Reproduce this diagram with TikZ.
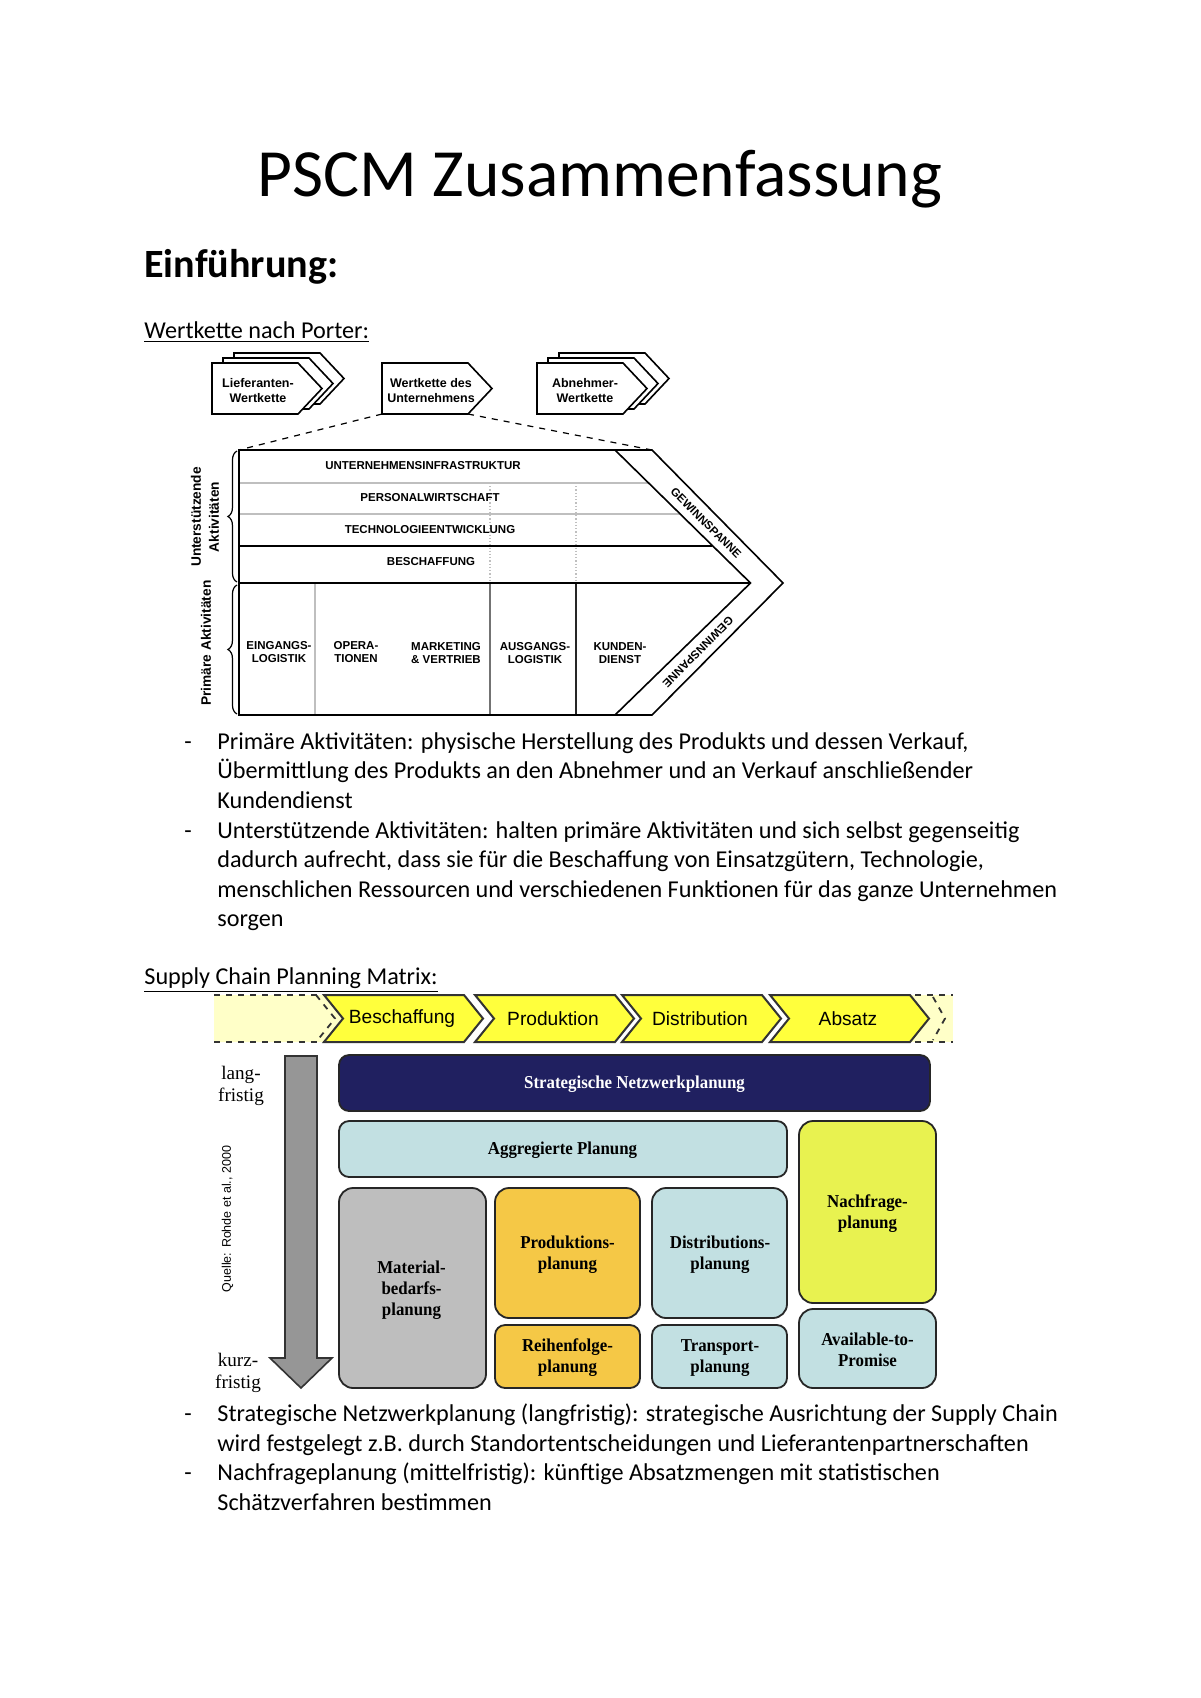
\documentclass[tikz,border=0pt]{standalone}
\usepackage{fontspec}
\setmainfont{Carlito}
\newfontfamily\arialf{Liberation Sans}
\newfontfamily\serf{Liberation Serif}
\newfontfamily\serfc[FakeStretch=0.93]{Liberation Serif}
\usetikzlibrary{decorations.pathreplacing}
\definecolor{navy}{RGB}{32,32,96}
\definecolor{lblue}{RGB}{194,224,226}
\definecolor{gold}{RGB}{245,200,70}
\definecolor{lime}{RGB}{232,242,80}
\definecolor{gbox}{RGB}{190,190,190}
\definecolor{bandy}{RGB}{255,255,60}
\definecolor{lighty}{RGB}{255,255,200}
\definecolor{agray}{RGB}{150,150,150}
\begin{document}
\begin{tikzpicture}[x=0.4961pt,y=-0.4961pt,
  body/.style={anchor=base west, inner sep=0pt, font=\fontsize{12}{14}\selectfont},
  pl/.style={font=\arialf\bfseries\fontsize{6.2}{7.4}\selectfont, align=center, inner sep=0pt},
  act/.style={font=\arialf\bfseries\fontsize{5.7}{6.6}\selectfont, align=center, inner sep=0pt},
  side/.style={font=\arialf\bfseries\fontsize{6.8}{9}\selectfont, align=center, inner sep=0pt, rotate=90},
  pentline/.style={draw=black, line width=0.8pt, fill=white},
  chev/.style={draw=black!80, line width=1pt, fill=bandy},
  chevtxt/.style={font=\arialf\fontsize{9.5}{11}\selectfont, inner sep=0pt},
  mbox/.style={draw=black!85, line width=0.9pt, rounded corners=7pt},
  sbox/.style={draw=black!85, line width=0.9pt, rounded corners=5pt},
  mtxt/.style={font=\serfc\bfseries\fontsize{9}{10.5}\selectfont, align=center, inner sep=0pt},
  ftxt/.style={font=\serf\fontsize{9.5}{11}\selectfont, align=center, inner sep=0pt},
  pent/.pic={\path[pentline] (0,0) -- (86,0) -- (110,25.5) -- (86,51) -- (0,51) -- cycle;}
]
\useasboundingbox[fill=white] (0,0) rectangle (1200,1698);

% ---------- headings ----------
\node[anchor=base, inner sep=0pt, font=\fontsize{33.5}{38}\selectfont] (title) at (600,196) {PSCM Zusammenfassung};
\node[anchor=base west, inner sep=0pt, font=\bfseries\fontsize{19.9}{22}\selectfont] (h1) at (144,277) {Einführung:};
\node[body] (h2) at (144,338) {\underline{Wertkette nach Porter:}};

% ---------- Porter value chain ----------
\pic at (234,353) {pent};
\pic at (223,358) {pent};
\pic at (212,363) {pent};
\node[pl] (lief) at (258,390.5) {Lieferanten-\\Wertkette};
\pic at (382,363) {pent};
\node[pl] (wku) at (431,390.5) {Wertkette des\\Unternehmens};
\pic at (559,353) {pent};
\pic at (548,358) {pent};
\pic at (537,363) {pent};
\node[pl] (abn) at (585,390.5) {Abnehmer-\\Wertkette};

\coordinate (wkbl) at (382,414);
\coordinate (wkbr) at (468,414);
\coordinate (chtl) at (239,450);
\coordinate (chtr) at (652,450);
\draw[dashed, line width=0.6pt] (wkbl) -- (chtl);
\draw[dashed, line width=0.6pt] (wkbr) -- (chtr);

% light inner lines
\draw[black!25, line width=0.6pt] (239,483) -- (648,483);
\draw[black!25, line width=0.6pt] (239,514) -- (680,514);
\draw[black!25, densely dotted, line width=0.6pt] (490,483) -- (490,583);
\draw[black!25, densely dotted, line width=0.6pt] (576,483) -- (576,583);
\draw[black!25, line width=0.6pt] (315,583) -- (315,715);
\draw[black!55, line width=0.6pt] (490,583) -- (490,715);
\draw[black!85, line width=0.6pt] (576,583) -- (576,715);
% main chevron
\draw[line width=0.8pt] (chtl) -- (chtr) -- (783,583) -- (652,715) -- (239,715) -- cycle;
\draw[line width=0.8pt] (615,450) -- (750.5,583) -- (615,715);
\draw[line width=0.8pt] (239,583) -- (750.5,583);
\draw[line width=0.8pt] (239,546) -- (712,546);

\node[act] (infra) at (423,466) {UNTERNEHMENSINFRASTRUKTUR};
\node[act] (pers) at (430,498) {PERSONALWIRTSCHAFT};
\node[act] (tech) at (430,530) {TECHNOLOGIEENTWICKLUNG};
\node[act] (besch) at (431,562) {BESCHAFFUNG};
\node[act] (eing) at (279,652) {EINGANGS-\\LOGISTIK};
\node[act] (opera) at (356,652) {OPERA-\\TIONEN};
\node[act] (mark) at (446,653) {MARKETING\\\& VERTRIEB};
\node[act] (ausg) at (535,653) {AUSGANGS-\\LOGISTIK};
\node[act] (kund) at (620,653) {KUNDEN-\\DIENST};
\node[act, rotate=-45] (gw1) at (706,523) {GEWINNSPANNE};
\node[act, rotate=-135] (gw2) at (698,652) {GEWINNSPANNE};

\draw[line width=0.6pt, decorate, decoration={brace, amplitude=4.5pt}] (237,582) -- (237,451);
\draw[line width=0.6pt, decorate, decoration={brace, amplitude=4.5pt}] (237,714) -- (237,585);
\node[side] (ua) at (205,517) {Unterstützende\\Aktivitäten};
\node[side] (pa) at (206,643) {Primäre Aktivitäten};

% ---------- bullet text 1 ----------
\node[body] (d1) at (184,749) {-};
\node[body] (l1) at (217,749) {Primäre Aktivitäten: physische Herstellung des Produkts und dessen Verkauf,};
\node[body] (l2) at (217,778.5) {Übermittlung des Produkts an den Abnehmer und an Verkauf anschließender};
\node[body] (l3) at (217,808) {Kundendienst};
\node[body] (d2) at (184,838) {-};
\node[body] (l4) at (217,838) {Unterstützende Aktivitäten: halten primäre Aktivitäten und sich selbst gegenseitig};
\node[body] (l5) at (217,867) {dadurch aufrecht, dass sie für die Beschaffung von Einsatzgütern, Technologie,};
\node[body] (l6) at (217,897) {menschlichen Ressourcen und verschiedenen Funktionen für das ganze Unternehmen};
\node[body] (l7) at (217,926) {sorgen};

\node[body] (h3) at (144,984) {\underline{Supply Chain Planning Matrix:}};

% ---------- Supply chain planning matrix ----------
\fill[lighty] (214,995) -- (324,995) -- (343,1018.5) -- (324,1042) -- (214,1042) -- cycle;
\draw[dashed, black!80, line width=0.9pt] (214,995) -- (324,995);
\draw[dashed, black!80, line width=0.9pt] (214,1042) -- (324,1042);
\draw[dashed, black!80, line width=0.9pt] (316,995) -- (335,1018.5) -- (316,1042);
\fill[lighty] (905,995) -- (953,995) -- (953,1042) -- (905,1042) -- cycle;
\draw[dashed, black!80, line width=0.9pt] (915,995) -- (953,995);
\draw[dashed, black!80, line width=0.9pt] (915,1042) -- (953,1042);
\draw[dashed, black!80, line width=0.9pt] (933,997) -- (945,1018.5) -- (933,1040);
\foreach \L/\nm/\t in {324/cb/Beschaffung, 475/cp/Produktion, 622/cd/Distribution, 770/ca/Absatz}{
  \path[chev] (\L,995) -- ++(140,0) -- ++(19,23.5) -- ++(-19,23.5) -- ++(-140,0) -- ++(19,-23.5) -- cycle;
  \node[chevtxt] (\nm) at (\L+78,1018.5) {\t};
}

% time arrow
\path[draw=black!80, fill=agray, line width=0.8pt] (285,1056) -- (317,1056) -- (317,1358) -- (332,1358) -- (301,1388) -- (270,1358) -- (285,1358) -- cycle;
\node[ftxt] (lang) at (241,1086) {lang-\\fristig};
\node[ftxt] (kurz) at (238,1373) {kurz-\\fristig};
\node[font=\arialf\fontsize{6.2}{7}\selectfont, rotate=90, inner sep=0pt] (quelle) at (227.5,1219) {Quelle: Rohde et al., 2000};

% boxes
\path[sbox, fill=navy] (339,1055) rectangle (930,1111);
\node[mtxt, text=white] (snp) at (634.5,1084) {Strategische Netzwerkplanung};
\path[sbox, fill=lblue] (339,1121) rectangle (787,1177);
\node[mtxt] (agg) at (562.5,1150) {Aggregierte Planung};
\path[mbox, fill=lime] (799,1121) rectangle (936,1303);
\node[mtxt] (nach) at (867.5,1214) {Nachfrage-\\planung};
\path[mbox, fill=gbox] (339,1188) rectangle (486,1388);
\node[mtxt] (mat) at (411.5,1290) {Material-\\bedarfs-\\planung};
\path[mbox, fill=gold] (495,1188) rectangle (640,1318);
\node[mtxt] (prod) at (567.5,1255) {Produktions-\\planung};
\path[mbox, fill=lblue] (652,1188) rectangle (787,1318);
\node[mtxt] (dist) at (720,1255) {Distributions-\\planung};
\path[sbox, fill=gold] (495,1325) rectangle (640,1388);
\node[mtxt] (reih) at (567.5,1358) {Reihenfolge-\\planung};
\path[sbox, fill=lblue] (652,1325) rectangle (787,1388);
\node[mtxt] (trans) at (720,1358) {Transport-\\planung};
\path[mbox, fill=lblue] (799,1309) rectangle (936,1388);
\node[mtxt] (atp) at (867.5,1350) {Available-to-\\Promise};

% ---------- bullet text 2 ----------
\node[body] (d3) at (184,1421) {-};
\node[body] (b1) at (217,1421) {Strategische Netzwerkplanung (langfristig): strategische Ausrichtung der Supply Chain};
\node[body] (b2) at (217,1451) {wird festgelegt z.B. durch Standortentscheidungen und Lieferantenpartnerschaften};
\node[body] (d4) at (184,1480) {-};
\node[body] (b3) at (217,1480) {Nachfrageplanung (mittelfristig): künftige Absatzmengen mit statistischen};
\node[body] (b4) at (217,1510) {Schätzverfahren bestimmen};
\end{tikzpicture}
\end{document}
